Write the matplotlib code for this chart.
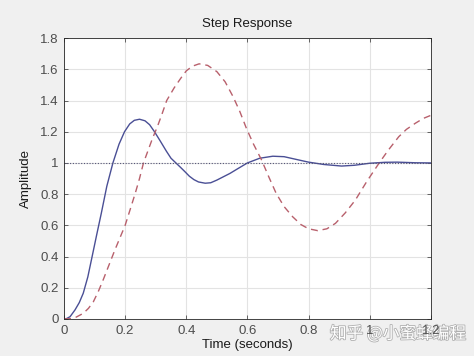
import matplotlib.pyplot as plt
import matplotlib.patheffects as pe
import numpy as np

plt.rcParams['font.family'] = ['Liberation Sans', 'DejaVu Sans']

# values
t_fast = [0.0, 0.009, 0.02, 0.036, 0.05, 0.063, 0.078, 0.092, 0.107, 0.122, 0.14, 0.16,
          0.18, 0.198, 0.215, 0.23, 0.247, 0.265, 0.28, 0.296, 0.315, 0.335, 0.35, 0.366,
          0.381, 0.395, 0.41, 0.425, 0.44, 0.462, 0.48, 0.5, 0.52, 0.543, 0.57, 0.6,
          0.64, 0.683, 0.72, 0.77, 0.8, 0.85, 0.908, 0.95, 1.0, 1.05, 1.09, 1.15, 1.2]
y_fast = [0.0, 0.003, 0.015, 0.058, 0.105, 0.165, 0.27, 0.40, 0.54, 0.677, 0.85, 1.0,
          1.12, 1.2, 1.25, 1.273, 1.28, 1.27, 1.245, 1.2, 1.14, 1.075, 1.03, 1.0,
          0.972, 0.945, 0.915, 0.893, 0.878, 0.87, 0.873, 0.89, 0.91, 0.933, 0.965, 1.0,
          1.03, 1.043, 1.04, 1.018, 1.005, 0.99, 0.98, 0.985, 0.998, 1.004, 1.005, 1.001, 1.0]

t_slow = [0.0, 0.02, 0.04, 0.063, 0.08, 0.096, 0.112, 0.128, 0.147, 0.166, 0.183, 0.2,
          0.217, 0.233, 0.247, 0.26, 0.275, 0.29, 0.305, 0.32, 0.336, 0.36, 0.381, 0.4,
          0.42, 0.442, 0.47, 0.5, 0.527, 0.553, 0.575, 0.597, 0.62, 0.646, 0.67, 0.694,
          0.72, 0.748, 0.775, 0.8, 0.83, 0.86, 0.888, 0.92, 0.953, 0.99, 1.03, 1.06,
          1.095, 1.12, 1.149, 1.175, 1.2]
y_slow = [0.0, 0.002, 0.012, 0.036, 0.068, 0.11, 0.175, 0.25, 0.345, 0.44, 0.52, 0.6,
          0.705, 0.805, 0.9, 1.0, 1.08, 1.16, 1.23, 1.31, 1.40, 1.48, 1.54, 1.59,
          1.62, 1.635, 1.625, 1.585, 1.52, 1.425, 1.33, 1.22, 1.12, 1.02, 0.91, 0.805,
          0.72, 0.655, 0.605, 0.578, 0.566, 0.578, 0.613, 0.68, 0.762, 0.88, 0.997, 1.08,
          1.168, 1.215, 1.254, 1.285, 1.305]

x_ticks = [0, 0.2, 0.4, 0.6, 0.8, 1, 1.2]
x_tick_labels = ['0', '0.2', '0.4', '0.6', '0.8', '1', '1.2']
y_ticks = [0, 0.2, 0.4, 0.6, 0.8, 1, 1.2, 1.4, 1.6, 1.8]
y_tick_labels = ['0', '0.2', '0.4', '0.6', '0.8', '1', '1.2', '1.4', '1.6', '1.8']

fig = plt.figure(figsize=(4.74, 3.56), dpi=100, facecolor='#f0f0f0')
ax = fig.add_axes([0.135, 0.104, 0.774, 0.789])
ax.set_facecolor('white')

ax.plot(t_fast, y_fast, color='#4a4f95', lw=1.0)
ax.plot(t_slow, y_slow, color='#b8606c', lw=1.0, ls=(0, (5, 3.5)))
ax.axhline(1, color='#555577', lw=0.8, ls=(0, (1, 1.5)))

ax.set_xlim(0, 1.2)
ax.set_ylim(0, 1.8)
ax.set_xticks(x_ticks)
ax.set_xticklabels(x_tick_labels)
ax.set_yticks(y_ticks)
ax.set_yticklabels(y_tick_labels)
ax.grid(color='#e3e3e3', lw=0.8)
ax.set_axisbelow(True)
ax.tick_params(direction='in', length=3, width=0.6, colors='#4d4d4d', labelsize=9.5,
               top=True, right=True, labeltop=False, labelright=False, pad=4)
for s in ax.spines.values():
    s.set_color('#262626')
    s.set_linewidth(0.6)

ax.set_title('Step Response', fontsize=9.5, color='#1a1a1a', pad=8)
ax.set_xlabel('Time (seconds)', fontsize=9.5, color='#1a1a1a', labelpad=2)
ax.set_ylabel('Amplitude', fontsize=9.5, color='#1a1a1a', labelpad=6)

# watermark, kept under the tick labels
fig.text(0.696, 0.062, '知乎 @小蜜蜂编程', fontsize=12, color='white',
         family=['Noto Sans CJK SC', 'DejaVu Sans'], va='center', ha='left', zorder=-1,
         path_effects=[pe.withStroke(linewidth=1.2, foreground='#b0b0b0')])

fig.savefig('out.png', dpi=100, facecolor=fig.get_facecolor())
